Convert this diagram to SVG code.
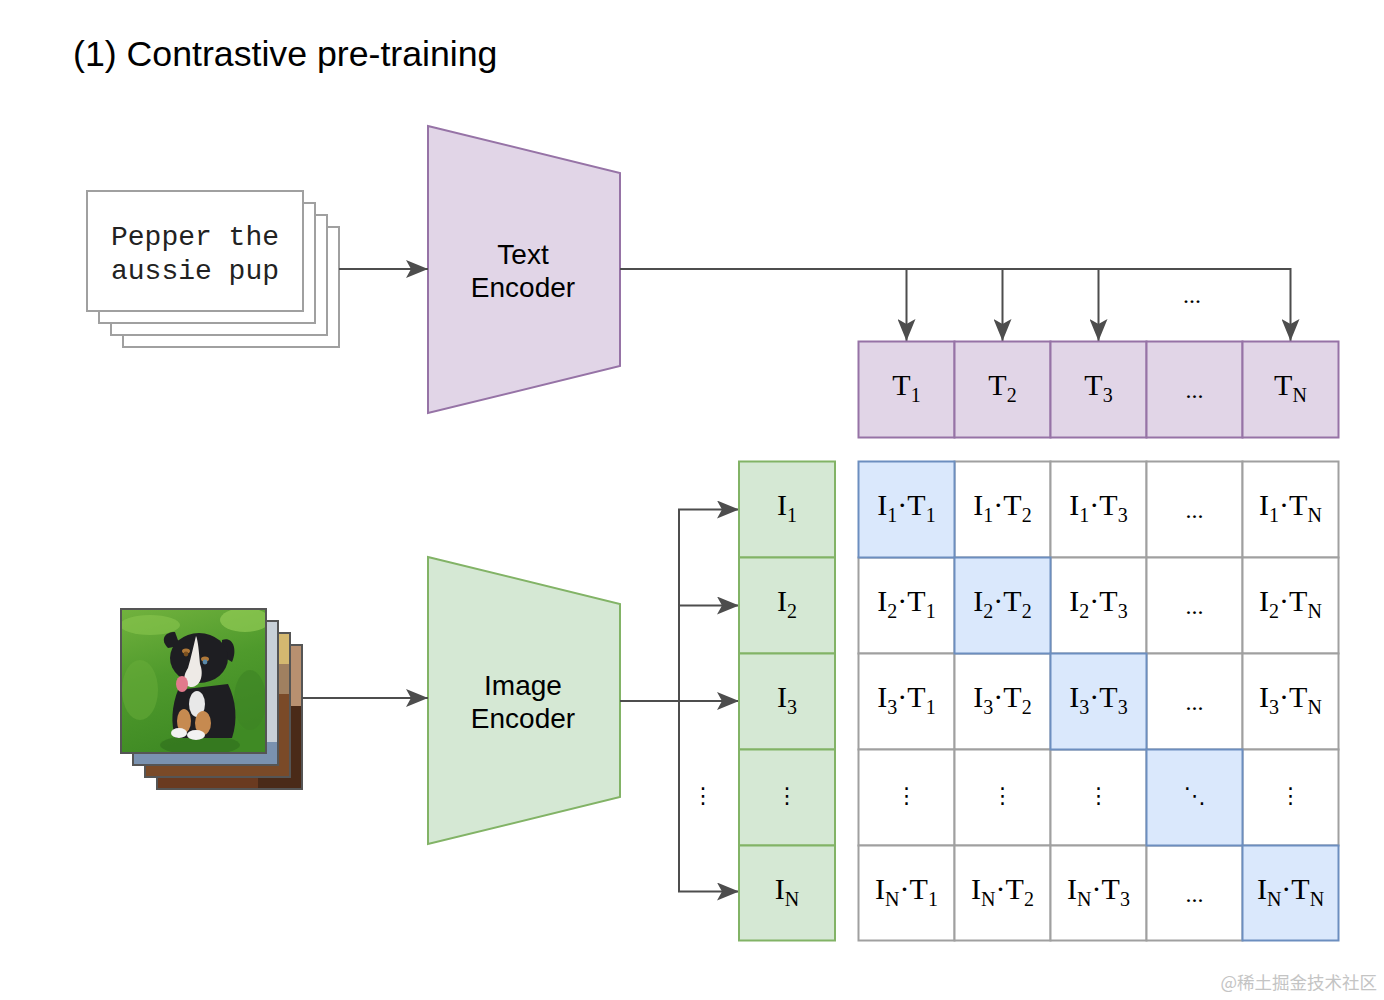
<svg xmlns="http://www.w3.org/2000/svg" width="1384" height="1000" viewBox="0 0 1384 1000">
<style>
.pur{fill:#e1d5e7;stroke:#9673a6;stroke-width:2}
.grn{fill:#d5e8d4;stroke:#82b366;stroke-width:2}
.blu{fill:#dae8fc;stroke:#6c8ebf;stroke-width:2}
.wht{fill:#ffffff;stroke:#a0a0a0;stroke-width:2}
.card{fill:#ffffff;stroke:#a0a0a0;stroke-width:2}
.photo{stroke:#555555;stroke-width:2}
.m{font-family:"Liberation Serif",serif;font-size:30px;text-anchor:middle;fill:#000}
.s{font-size:20px}
.dots{font-family:"Liberation Serif",serif;font-size:24px;text-anchor:middle;fill:#000}
.vd{font-family:"DejaVu Sans",sans-serif;font-size:22px;text-anchor:middle;fill:#000}
.enc{font-family:"Liberation Sans",Arial,sans-serif;font-size:28px;text-anchor:middle;fill:#000}
.mono{font-family:"Liberation Mono","Courier New",monospace;font-size:28px;text-anchor:middle;fill:#222}
.conn{fill:none;stroke:#4d4d4d;stroke-width:2}
</style>
<defs>
<marker id="arr" markerUnits="userSpaceOnUse" markerWidth="22" markerHeight="18" viewBox="0 0 22 18" refX="22" refY="9" orient="auto">
<path d="M0,0 L22,9 L0,18 L5,9 z" fill="#4d4d4d"/>
</marker>
<linearGradient id="grass" x1="0" y1="0" x2="0.3" y2="1">
<stop offset="0" stop-color="#72b23e"/>
<stop offset="0.5" stop-color="#4f9a2c"/>
<stop offset="1" stop-color="#3f8a24"/>
</linearGradient>
<clipPath id="ph"><rect x="121" y="609" width="145" height="144"/></clipPath>
</defs>
<rect width="1384" height="1000" fill="#ffffff"/>

<g id="title">
<text x="73" y="66" font-family="Liberation Sans, Arial, sans-serif" font-size="35.7" fill="#000">(1) Contrastive pre-training</text>
</g>

<g id="text-stack">
<rect class="card" x="123" y="227" width="216" height="120"/>
<rect class="card" x="111" y="215" width="216" height="120"/>
<rect class="card" x="99" y="203" width="216" height="120"/>
<rect class="card" x="87" y="191" width="216" height="120"/>
<text class="mono" x="195" y="245">Pepper the</text>
<text class="mono" x="195" y="279">aussie pup</text>
</g>

<g id="text-encoder">
<polygon class="pur" points="428,126 620,173 620,366 428,413"/>
<text class="enc" x="523" y="264">Text</text>
<text class="enc" x="523" y="297">Encoder</text>
</g>

<g id="image-stack">
<rect class="photo" x="157" y="645" width="145" height="144" fill="#4a2a18"/>
<rect x="266" y="646" width="35" height="60" fill="#b89070"/>
<rect x="158" y="765" width="100" height="23" fill="#6a3a20"/>
<rect class="photo" x="145" y="633" width="145" height="144" fill="#7a4a28"/>
<rect x="266" y="634" width="23" height="30" fill="#d4b870"/>
<rect x="266" y="664" width="23" height="30" fill="#a08060"/>
<rect class="photo" x="133" y="621" width="145" height="144" fill="#a8b2bc"/>
<rect x="134" y="742" width="143" height="22" fill="#7a92b0"/>
<rect x="266" y="622" width="11" height="120" fill="#c8d0d8"/>
<g clip-path="url(#ph)">
<rect x="121" y="609" width="145" height="144" fill="url(#grass)"/>
<ellipse cx="150" cy="625" rx="30" ry="10" fill="#8cc850" opacity="0.55"/>
<ellipse cx="245" cy="620" rx="25" ry="12" fill="#9ad25a" opacity="0.6"/>
<ellipse cx="140" cy="690" rx="18" ry="30" fill="#6aae3a" opacity="0.5"/>
<ellipse cx="250" cy="700" rx="16" ry="30" fill="#3d8424" opacity="0.6"/>
<ellipse cx="200" cy="745" rx="40" ry="10" fill="#2f6e1c" opacity="0.6"/>
<path d="M168,648 C160,640 164,632 175,632 L180,646 Z" fill="#1e1e22"/>
<path d="M222,640 C232,636 238,648 232,662 L222,656 Z" fill="#1e1e22"/>
<ellipse cx="199" cy="658" rx="29" ry="25" fill="#1e1e22"/>
<path d="M178,690 C172,705 170,725 176,738 L232,738 C238,720 236,700 228,684 Z" fill="#1e1e22"/>
<path d="M196,636 C198,640 199,652 200,664 C204,674 201,686 192,687 C183,687 182,677 188,668 C191,658 194,644 196,636 Z" fill="#eeeae6"/>
<ellipse cx="186" cy="651" rx="4" ry="2.5" fill="#b07838"/>
<ellipse cx="205" cy="659" rx="4" ry="2.5" fill="#b07838"/>
<circle cx="186" cy="654" r="2.4" fill="#7a5020"/>
<circle cx="205" cy="662" r="2.4" fill="#5a88a8"/>
<ellipse cx="182" cy="684" rx="6" ry="8" fill="#e27a8c"/>
<ellipse cx="197" cy="704" rx="8" ry="13" fill="#e8e8e8"/>
<ellipse cx="184" cy="721" rx="7" ry="12" fill="#c68a50"/>
<ellipse cx="203" cy="723" rx="8" ry="12" fill="#c68a50"/>
<ellipse cx="179" cy="733" rx="8" ry="5" fill="#f2f2f2"/>
<ellipse cx="196" cy="735" rx="9" ry="5" fill="#f2f2f2"/>
</g>
<rect class="photo" x="121" y="609" width="145" height="144" fill="none"/>
</g>

<g id="image-encoder">
<polygon class="grn" points="428,557 620,604 620,797 428,844"/>
<text class="enc" x="523" y="695">Image</text>
<text class="enc" x="523" y="728">Encoder</text>
</g>

<g id="connectors">
<path class="conn" d="M339,269 H428" marker-end="url(#arr)"/>
<path class="conn" d="M620,269 H906.5 V341" marker-end="url(#arr)"/>
<path class="conn" d="M620,269 H1002.5 V341" marker-end="url(#arr)"/>
<path class="conn" d="M620,269 H1098.5 V341" marker-end="url(#arr)"/>
<path class="conn" d="M620,269 H1290.5 V341" marker-end="url(#arr)"/>
<path class="conn" d="M302,698 H428" marker-end="url(#arr)"/>
<path class="conn" d="M620,701 H679 V509.5 H739" marker-end="url(#arr)"/>
<path class="conn" d="M620,701 H679 V605.5 H739" marker-end="url(#arr)"/>
<path class="conn" d="M620,701 H739" marker-end="url(#arr)"/>
<path class="conn" d="M620,701 H679 V891.5 H739" marker-end="url(#arr)"/>
<text class="dots" x="1192" y="303">...</text>
<text class="vd" x="703" y="803">⋮</text>
</g>

<g id="text-embeddings">
<rect class="pur" x="858.5" y="341.5" width="96" height="96"/>
<rect class="pur" x="954.5" y="341.5" width="96" height="96"/>
<rect class="pur" x="1050.5" y="341.5" width="96" height="96"/>
<rect class="pur" x="1146.5" y="341.5" width="96" height="96"/>
<rect class="pur" x="1242.5" y="341.5" width="96" height="96"/>
<text class="m" x="906.5" y="395">T<tspan class="s" dy="7">1</tspan></text>
<text class="m" x="1002.5" y="395">T<tspan class="s" dy="7">2</tspan></text>
<text class="m" x="1098.5" y="395">T<tspan class="s" dy="7">3</tspan></text>
<text class="dots" x="1194.5" y="398">...</text>
<text class="m" x="1290.5" y="395">T<tspan class="s" dy="7">N</tspan></text>
</g>

<g id="image-embeddings">
<rect class="grn" x="739" y="461.5" width="96" height="96"/>
<rect class="grn" x="739" y="557.5" width="96" height="96"/>
<rect class="grn" x="739" y="653.5" width="96" height="96"/>
<rect class="grn" x="739" y="749.5" width="96" height="96"/>
<rect class="grn" x="739" y="845.5" width="96" height="95"/>
<text class="m" x="787" y="515">I<tspan class="s" dy="7">1</tspan></text>
<text class="m" x="787" y="611">I<tspan class="s" dy="7">2</tspan></text>
<text class="m" x="787" y="707">I<tspan class="s" dy="7">3</tspan></text>
<text class="vd" x="787" y="803">⋮</text>
<text class="m" x="787" y="899">I<tspan class="s" dy="7">N</tspan></text>
</g>

<g id="similarity-matrix">
<g id="matrix-cells">
<rect class="wht" x="954.5" y="461.5" width="96" height="96"/>
<rect class="wht" x="1050.5" y="461.5" width="96" height="96"/>
<rect class="wht" x="1146.5" y="461.5" width="96" height="96"/>
<rect class="wht" x="1242.5" y="461.5" width="96" height="96"/>
<rect class="wht" x="858.5" y="557.5" width="96" height="96"/>
<rect class="wht" x="1050.5" y="557.5" width="96" height="96"/>
<rect class="wht" x="1146.5" y="557.5" width="96" height="96"/>
<rect class="wht" x="1242.5" y="557.5" width="96" height="96"/>
<rect class="wht" x="858.5" y="653.5" width="96" height="96"/>
<rect class="wht" x="954.5" y="653.5" width="96" height="96"/>
<rect class="wht" x="1146.5" y="653.5" width="96" height="96"/>
<rect class="wht" x="1242.5" y="653.5" width="96" height="96"/>
<rect class="wht" x="858.5" y="749.5" width="96" height="96"/>
<rect class="wht" x="954.5" y="749.5" width="96" height="96"/>
<rect class="wht" x="1050.5" y="749.5" width="96" height="96"/>
<rect class="wht" x="1242.5" y="749.5" width="96" height="96"/>
<rect class="wht" x="858.5" y="845.5" width="96" height="95"/>
<rect class="wht" x="954.5" y="845.5" width="96" height="95"/>
<rect class="wht" x="1050.5" y="845.5" width="96" height="95"/>
<rect class="wht" x="1146.5" y="845.5" width="96" height="95"/>
<rect class="blu" x="858.5" y="461.5" width="96" height="96"/>
<rect class="blu" x="954.5" y="557.5" width="96" height="96"/>
<rect class="blu" x="1050.5" y="653.5" width="96" height="96"/>
<rect class="blu" x="1146.5" y="749.5" width="96" height="96"/>
<rect class="blu" x="1242.5" y="845.5" width="96" height="95"/>
</g>
<text class="m" x="906.5" y="515">I<tspan class="s" dy="7">1</tspan><tspan dy="-7">·T</tspan><tspan class="s" dy="7">1</tspan></text>
<text class="m" x="1002.5" y="515">I<tspan class="s" dy="7">1</tspan><tspan dy="-7">·T</tspan><tspan class="s" dy="7">2</tspan></text>
<text class="m" x="1098.5" y="515">I<tspan class="s" dy="7">1</tspan><tspan dy="-7">·T</tspan><tspan class="s" dy="7">3</tspan></text>
<text class="dots" x="1194.5" y="518">...</text>
<text class="m" x="1290.5" y="515">I<tspan class="s" dy="7">1</tspan><tspan dy="-7">·T</tspan><tspan class="s" dy="7">N</tspan></text>

<text class="m" x="906.5" y="611">I<tspan class="s" dy="7">2</tspan><tspan dy="-7">·T</tspan><tspan class="s" dy="7">1</tspan></text>
<text class="m" x="1002.5" y="611">I<tspan class="s" dy="7">2</tspan><tspan dy="-7">·T</tspan><tspan class="s" dy="7">2</tspan></text>
<text class="m" x="1098.5" y="611">I<tspan class="s" dy="7">2</tspan><tspan dy="-7">·T</tspan><tspan class="s" dy="7">3</tspan></text>
<text class="dots" x="1194.5" y="614">...</text>
<text class="m" x="1290.5" y="611">I<tspan class="s" dy="7">2</tspan><tspan dy="-7">·T</tspan><tspan class="s" dy="7">N</tspan></text>

<text class="m" x="906.5" y="707">I<tspan class="s" dy="7">3</tspan><tspan dy="-7">·T</tspan><tspan class="s" dy="7">1</tspan></text>
<text class="m" x="1002.5" y="707">I<tspan class="s" dy="7">3</tspan><tspan dy="-7">·T</tspan><tspan class="s" dy="7">2</tspan></text>
<text class="m" x="1098.5" y="707">I<tspan class="s" dy="7">3</tspan><tspan dy="-7">·T</tspan><tspan class="s" dy="7">3</tspan></text>
<text class="dots" x="1194.5" y="710">...</text>
<text class="m" x="1290.5" y="707">I<tspan class="s" dy="7">3</tspan><tspan dy="-7">·T</tspan><tspan class="s" dy="7">N</tspan></text>

<text class="vd" x="906.5" y="803">⋮</text>
<text class="vd" x="1002.5" y="803">⋮</text>
<text class="vd" x="1098.5" y="803">⋮</text>
<text class="vd" x="1194.5" y="803">⋱</text>
<text class="vd" x="1290.5" y="803">⋮</text>

<text class="m" x="906.5" y="899">I<tspan class="s" dy="7">N</tspan><tspan dy="-7">·T</tspan><tspan class="s" dy="7">1</tspan></text>
<text class="m" x="1002.5" y="899">I<tspan class="s" dy="7">N</tspan><tspan dy="-7">·T</tspan><tspan class="s" dy="7">2</tspan></text>
<text class="m" x="1098.5" y="899">I<tspan class="s" dy="7">N</tspan><tspan dy="-7">·T</tspan><tspan class="s" dy="7">3</tspan></text>
<text class="dots" x="1194.5" y="902">...</text>
<text class="m" x="1290.5" y="899">I<tspan class="s" dy="7">N</tspan><tspan dy="-7">·T</tspan><tspan class="s" dy="7">N</tspan></text>
</g>

<g id="watermark">
<text x="1377" y="989" font-family="Noto Sans CJK SC, sans-serif" font-size="17.5" text-anchor="end" fill="#c4c4c4">@稀土掘金技术社区</text>
</g>
</svg>
